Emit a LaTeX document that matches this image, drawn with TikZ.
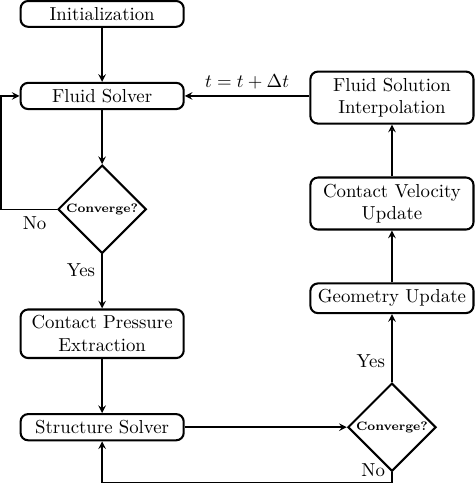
\documentclass[tikz,border=0pt]{standalone}
\usepackage{amsmath}
\usetikzlibrary{shapes.geometric,arrows,positioning}
\tikzstyle{process} = [rectangle, rounded corners, minimum width=3.05cm, text centered, align=center, draw=black, line width=1.1pt]
\tikzstyle{decision} = [diamond, aspect=1, minimum width=1.65cm, minimum height=1.65cm, inner sep=0pt, draw=black, line width=1.1pt, font=\fontsize{6.5}{8}\selectfont\bfseries]
\tikzstyle{arrow} = [thick,->,>=stealth]

\begin{document}
\begin{tikzpicture}[node distance=1.01cm]
\useasboundingbox (-1.91,0.26) rectangle (6.96,-8.79);
\node (init) [process] {Initialization};
\node (fluid) [process, below=of init] {Fluid Solver};
\node (conv1) [decision, below=of fluid] {Converge?};
\node (pressure) [process, below=of conv1] {Contact Pressure\\Extraction};
\node (structure) [process, below=of pressure] {Structure Solver};
\node (conv2) [decision, right=3.03cm of structure] {Converge?};
\node (geometry) [process, above=1.27cm of conv2] {Geometry Update};
\node (velocity) [process, above=0.97cm of geometry] {Contact Velocity\\Update};
\node (interp) [process, above=0.97cm of velocity] {Fluid Solution\\Interpolation};

\draw [arrow] (init) -- (fluid);
\draw [arrow] (fluid) -- (conv1);
\draw [arrow] (conv1) -- node[left, pos=0.3] {Yes} (pressure);
\draw [arrow] (pressure) -- (structure);
\draw [arrow] (structure) -- (conv2);
\draw [arrow] (conv2) -- node[left, pos=0.3] {Yes} (geometry);
\draw [arrow] (geometry) -- (velocity);
\draw [arrow] (velocity) -- (interp);
\draw [arrow] (interp.west |- fluid) -- node[above] {$t=t+\Delta t$} (fluid);
\draw [arrow] (conv1.west) -- node[below, pos=0.4] {No} ++(-1.05,0) |- (fluid.west);
\draw [arrow] (conv2.south) node[left, yshift=1pt] {No} -- ++(0,-0.19) -| (structure.south);
\end{tikzpicture}
\end{document}
